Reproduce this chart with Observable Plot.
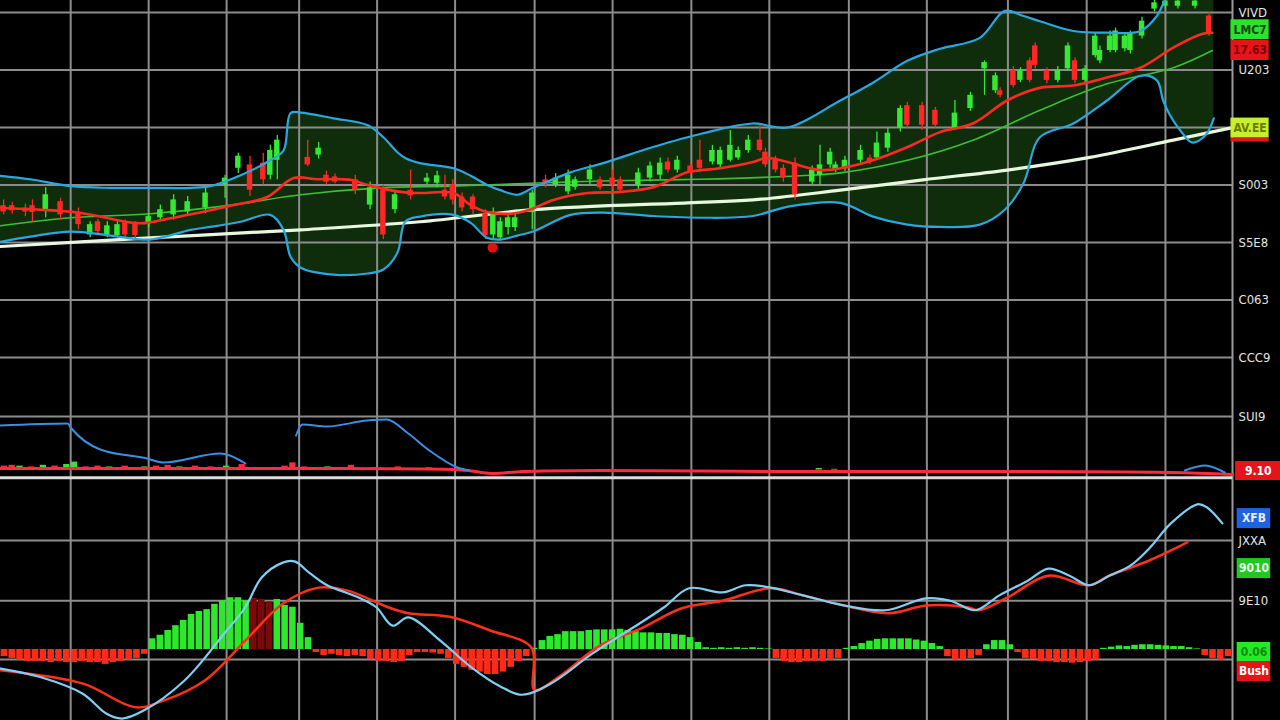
<!DOCTYPE html>
<html><head><meta charset="utf-8">
<script src="https://cdn.jsdelivr.net/npm/d3@7"></script>
<script src="https://cdn.jsdelivr.net/npm/@observablehq/plot@0.6"></script>
<style>
html,body{margin:0;padding:0;background:#000;}
#chart{position:relative;width:1280px;height:720px;overflow:hidden;background:#000;}
#chart svg{position:absolute;left:0;}
</style>
</head><body><div id="chart"></div>
<script>
// ---------- shared session ticks (vertical grid) ----------
const sessionTicks = [9,19,29,38.3,48.3,58.3,68.5,78.5,88.6,98.6,108.8,118.8,129.2,139.3,149.4];

// ---------- price panel ----------
const priceTicks = [180,170,160,150,140,130,120];
const priceTickLabels = ["VIVD","U203","","S003","S5E8","C063","CCC9"];

const candleIdx = [0.4,1.5,3.2,4.1,5.8,7.7,10,11.5,12.5,13.7,15,16,17.3,19,20.5,22.2,24,26.3,28.8,30.5,32,33.7,34.6,35.5,39.4,40.8,41.8,42.9,45.5,47.4,49.1,50.6,52.6,54.7,56,57,58,59.2,60.6,62.2,63.2,64.1,65.1,66,68.2,69.9,71.2,72.8,73.7,75.6,76.9,78.5,79.5,81.8,83.3,84.6,85.6,86.8,88.5,89.7,91.3,92.3,93.6,94.6,95.9,97.4,98.1,99.4,100.4,101.9,104.1,105.1,106.4,107.1,108.3,110.3,111.5,112.4,113.8,115.4,116.3,118.2,119.9,122.4,124.4,126.2,127.6,128.2,129.9,130.8,132,132.7,134.2,135.6,136.9,137.8,139.1,140.4,141,142.3,143,144.2,144.9,146.4,148,149.4,151,153.2,155];
const candleOpen = [146.4,146.4,146.0,146.4,145.7,147.1,145.2,141.3,143.6,141.2,141.2,143.4,143.2,143.2,144.3,144.8,145.3,146.0,150.0,152.9,153.5,153.8,151.7,154.3,154.8,155.2,151.7,151.4,150.9,146.5,149.1,145.7,149.1,150.5,150.3,149.1,150.0,147.9,147.9,145.0,141.3,140.8,142.6,142.6,145.2,150.9,150.0,148.8,149.6,150.9,150.9,151.2,150.9,150.0,151.2,151.7,154.0,152.6,153.3,154.3,154.0,153.5,154.3,154.7,156.0,157.8,155.7,154.3,152.9,153.8,150.5,151.7,153.5,152.6,152.9,154.3,154.7,154.7,156.4,159.9,163.8,163.8,163.0,159.9,163.3,170.2,166.4,166.4,169.9,168.2,171.6,174.2,169.9,168.2,170.2,171.6,168.2,172.5,171.6,173.4,173.4,173.7,173.4,175.9,180.6,181.1,181.1,181.1,179.4];
const candleClose = [145.3,145.5,145.3,145.2,148.3,144.8,143.1,143.1,141.9,142.9,143.1,141.3,141.2,144.5,145.7,147.4,147.1,148.6,151.2,155.0,149.1,150.9,156.0,157.8,153.5,156.4,150.5,150.5,149.1,149.5,141.3,148.3,148.1,151.2,151.6,147.9,147.4,146.0,145.7,141.2,145.3,143.6,144.3,144.3,148.6,150.0,151.2,151.7,150.9,152.6,149.5,150.0,149.1,152.1,153.3,153.8,152.6,154.3,152.2,152.9,156.0,156.0,156.9,156.0,157.8,156.0,153.5,152.6,151.2,148.3,152.6,153.5,155.7,153.5,154.3,156.0,154.0,157.3,159.0,163.3,160.4,160.4,160.4,162.5,165.6,171.3,169.0,165.6,167.3,169.9,168.2,170.8,168.2,169.9,174.2,168.2,170.2,175.9,173.4,175.9,176.8,175.9,176.3,178.5,181.7,182.0,182.0,182.0,176.3];
const candleHigh = [147.4,147.0,146.7,147.4,149.5,147.7,146.0,143.6,144.0,143.6,143.6,143.9,143.6,145.0,146.5,148.3,148.0,149.5,151.7,155.5,155.0,155.5,156.9,158.6,157.8,157.4,152.4,151.9,151.7,150.5,150.0,149.1,152.6,152.0,152.4,151.7,150.9,148.6,148.3,145.7,146.0,144.3,145.0,145.2,149.1,151.7,152.0,152.6,151.4,153.5,151.4,152.6,151.4,152.9,154.0,154.7,154.7,155.0,153.8,157.8,156.9,156.6,159.5,156.6,158.6,160.4,156.4,155.0,153.5,154.7,153.3,156.9,156.4,154.0,155.0,156.9,155.2,159.2,159.9,163.8,164.4,164.4,163.5,164.7,166.1,171.6,169.5,166.9,170.6,170.4,172.1,174.7,170.4,170.6,174.7,172.1,170.8,176.5,174.2,176.8,177.3,176.5,176.8,179.2,182.1,182.1,182.1,182.1,180.0];
const candleLow = [144.8,144.9,144.5,143.6,144.3,143.9,142.2,140.8,141.3,140.8,140.8,140.8,140.5,142.6,143.6,143.9,144.5,145.0,147.7,152.0,148.0,150.0,150.9,150.9,153.2,154.5,150.0,150.2,148.3,145.7,140.5,145.0,147.4,150.0,149.5,147.4,146.5,145.3,144.8,140.5,140.5,140.3,141.3,141.9,142.2,149.5,149.5,148.3,149.1,150.0,149.1,149.1,148.6,149.1,150.5,150.9,152.1,152.1,151.7,152.2,153.5,152.9,154.0,154.3,155.5,155.7,153.0,152.1,150.5,147.4,150.0,150.0,152.9,152.2,152.4,153.8,153.5,154.3,155.7,159.2,159.9,159.5,159.9,159.5,162.8,165.6,165.9,165.2,166.9,167.8,167.8,170.2,167.6,167.8,169.9,167.6,167.8,172.1,171.1,173.0,173.0,173.2,172.8,175.4,180.1,180.6,180.6,180.6,175.9];

const bandIdx = [0,3.8,9,14.1,19.2,24.4,26.9,30.8,34.6,36.3,37.2,38.5,42.7,47.1,49.1,50.9,51.9,53.8,58.1,60.3,62.4,64.1,66.3,68.3,73.1,77.3,83.7,90.1,96.5,100.9,107.7,111.9,116.3,120.5,125.6,128.8,131.2,133.3,137.6,141.9,146.2,148.3,149.1,150,151.3,152.8,154.5,155.6];
const bandUpper = [151.6,151.0,149.8,149.5,149.5,149.5,149.8,151.7,154.3,156.0,162.5,162.6,161.6,160.4,158.3,155.7,154.7,153.8,152.9,151.6,150.0,149.1,148.3,149.5,152.2,153.8,156.6,159.0,160.7,160.0,164.7,167.8,171.6,173.7,175.6,180.3,179.4,178.5,176.8,176.5,176.8,179.4,181.5,183.7,183.7,183.7,183.7,183.7];
const bandLower = [140.1,141.0,141.9,141.2,140.5,142.2,142.7,143.6,144.8,142.2,137.5,135.6,134.4,134.6,135.3,138.2,143.6,144.5,144.8,143.4,140.8,140.5,141.2,141.9,144.8,145.2,144.6,144.3,144.6,146.2,146.9,144.5,143.1,142.7,143.1,145.7,150.3,158.3,160.7,164.7,169.0,168.2,164.7,162.1,159.5,157.4,158.6,161.6];

const redMaIdx = [0,5.1,9.9,17.1,18.8,21.4,25.6,29.9,34.2,37.6,40.6,44.9,47.1,51.3,53.8,58.1,60.3,62.4,65.4,67.9,70.9,75.3,79.5,83.7,88.1,92.3,96.5,98.3,100.9,105.1,107.7,111.9,116.3,120.5,124.7,129.1,133.3,137.6,141.9,146.2,150.4,154.2,155.4];
const redMaVal = [146.0,145.7,145.2,143.4,143.4,144.1,145.2,146.5,147.9,151.2,151.0,150.9,150.0,148.8,148.6,148.6,146.5,145.3,145.0,145.7,147.4,148.6,148.8,149.6,152.2,152.9,154.0,154.7,154.0,152.6,152.9,154.3,156.6,159.2,160.7,164.7,166.9,167.3,168.7,170.4,173.9,176.3,176.5];

const greenMaIdx = [0,9,19.2,29.5,38.5,48.7,57.7,67.9,76.9,89.7,102.6,107.7,116.3,124.7,133.3,141.9,150.4,155.4];
const greenMaVal = [142.9,144.3,145.0,146.5,148.3,149.5,149.8,150.3,150.7,151.0,151.6,152.1,154.3,157.8,163.0,167.6,170.4,173.4];

const longMaIdx = [0,19.2,38.5,53.8,68.3,88.1,96.5,107.7,118.3,129.1,139.7,150.4,157.7];
const longMaVal = [139.3,140.8,142.2,143.6,145.7,146.9,147.4,149.1,150.9,152.6,154.8,157.8,159.9];

const lowMarkerIdx = [63.1];
const lowMarkerVal = [139.1];

const topTagLabels = ["LMC7","17.63","AV.EE"];
const topTagValues = [177.0,173.4,159.9];
const topTagKinds = ["green","red","lime"];

// ---------- middle indicator panel ----------
const midTicks = [80];
const midTickLabels = ["SUI9"];
const midBlueIdx = [0,8.6,9.1,12.8,18.8,20.9,28.2,29.4,31.4,33,37.9,38.7,41.9,47,49.5,52.3,55,58.6,60.1,150,151.9,154.5,157];
const midBlueVal = [68.75,71.3,65,38.75,27.5,22.5,33.75,31.25,21.25,null,56.25,70,67.5,75,76.25,58.75,37.5,16.25,12.5,null,12.5,18.75,10];
const midRedIdx = [0,20,40,58,60,63,67,77,100,128,150,158];
const midRedVal = [15,15,15,13.75,12.5,8.75,11.25,12.5,11.25,11.25,10,7.5];
const volIdx = [0.5,1.5,2.5,4,5.5,7,8.5,9.5,11,12.5,14,16,18.5,20,21.5,23,25,27,29,31,36.5,37.5,39,42,45,48,51,55,59,105,107];
const volVal = [18,19,18,17,19,18,20,23,17,18,17,18,17,18,19,17,18,17,18,20,18,22,17,17,19,16,17,16,15,15,14];
const volUp = [0,0,1,0,1,0,1,1,0,0,1,0,1,0,0,1,0,0,1,0,0,0,0,1,0,0,0,0,0,1,1];
const midTagLabels = ["9.10"];
const midTagValues = [11.25];
const midTagKinds = ["redW"];

// ---------- MACD panel ----------
const macdTicks = [1.83,0.82,-0.17];
const macdTickLabels = ["JXXA","9E10",""];
const histVal = [-0.12,-0.15,-0.18,-0.2,-0.2,-0.2,-0.22,-0.2,-0.22,-0.22,-0.2,-0.22,-0.22,-0.25,-0.22,-0.2,-0.18,-0.15,-0.08,
 0.18,0.24,0.32,0.4,0.49,0.59,0.64,0.67,0.76,0.82,0.87,0.87,0.82,
 0.86,0.84,0.8,
 0.84,0.74,0.71,0.44,0.2,
 -0.05,-0.1,-0.08,-0.1,-0.12,-0.1,-0.12,-0.17,-0.2,-0.2,-0.22,-0.2,-0.1,-0.05,-0.05,-0.06,-0.08,-0.15,-0.25,-0.3,-0.35,-0.38,-0.42,-0.42,-0.38,-0.3,-0.2,-0.12,
 0.02,
 0.15,0.22,0.25,0.3,0.3,0.3,0.32,0.33,0.33,0.33,0.34,0.32,0.3,0.28,0.28,0.27,0.27,0.25,0.24,0.2,0.12,
 0.03,0.02,0.03,0.02,0.03,0.02,0.03,0.02,0.01,
 -0.15,-0.2,-0.22,-0.22,-0.2,-0.2,-0.2,-0.18,-0.15,
 0.02,0.05,0.1,0.14,0.17,0.18,0.18,0.18,0.18,0.16,0.14,0.1,0.05,
 -0.12,-0.18,-0.18,-0.15,-0.1,
 0.08,0.15,0.15,0.08,
 -0.05,-0.15,-0.17,-0.2,-0.2,-0.22,-0.22,-0.23,-0.22,-0.2,-0.18,
 0.02,0.04,0.06,0.05,0.07,0.08,0.08,0.07,0.06,0.05,0.05,0.03,0.01,
 -0.1,-0.15,-0.18,-0.12];
const histFading = [32,33,34];
const macdIdx = [0,5.3,10.5,13.6,15.6,18.3,23.6,28.7,31.4,33.5,36.2,37.7,39.7,41.9,46,48.2,50.3,52.3,56.4,60.3,64.1,66.9,70.6,75.9,82.1,85.1,88.3,92.6,95.6,98.8,102.9,108.2,113.5,118.7,121.8,125,128.1,131.8,134.4,137.1,139.6,142.2,144.9,147.4,150.1,153.5,154.7,156.7];
const macdVal = [-0.32,-0.47,-0.74,-1.08,-1.16,-1.03,-0.52,0.27,0.71,1.21,1.46,1.48,1.28,1.08,0.87,0.71,0.40,0.54,0.15,-0.29,-0.62,-0.76,-0.57,-0.07,0.45,0.71,1.03,0.96,1.08,1.04,0.91,0.74,0.66,0.86,0.82,0.66,0.91,1.16,1.36,1.24,1.08,1.24,1.41,1.71,2.12,2.44,2.39,2.12];
const signalIdx = [0,10.5,17.3,20.9,26.2,31.4,36.2,40.8,44.5,49.7,52.3,57.6,62.8,68.1,68.5,71.8,76.9,82.1,87.3,92.6,98.8,102.9,108.2,114,118.7,124,125.5,129.1,134.4,139.6,142.2,147.4,152.2];
const signalVal = [-0.35,-0.57,-0.97,-0.86,-0.52,0.15,0.77,1.04,0.99,0.71,0.61,0.55,0.32,0.03,-0.68,-0.44,0.07,0.35,0.69,0.82,1.03,0.91,0.74,0.61,0.74,0.71,0.66,0.87,1.24,1.08,1.24,1.50,1.80];
const lowTagLabels = ["XFB","9010","0.06","Bush"];
const lowTagValues = [2.20,1.36,-0.05,-0.37];
const lowTagKinds = ["blue","greenW","green2","redW"];

// ---------- styling ----------
const GRID = "#8c8c8c";
const UP = "#34e834", DOWN = "#ff2626";
const FONT = "'DejaVu Sans Condensed','DejaVu Sans',sans-serif";
const tagFill = {green:"#2fe02f",red:"#e8141a",lime:"#c6f02a",blue:"#1f63e0",greenW:"#22c722",green2:"#27e827",redW:"#e5141b"};
const tagText = {green:"#0b4a0b",red:"#7a0000",lime:"#6a7a00",blue:"#e8f0ff",greenW:"#eaffea",green2:"#138a13",redW:"#ffffff"};

const zip = (xs, ys) => xs.map((i,k)=>({i, v: ys[k]}));
const candles = candleIdx.map((i,k)=>({i,o:candleOpen[k],c:candleClose[k],h:candleHigh[k],l:candleLow[k]}));
const bands = bandIdx.map((i,k)=>({i, up:bandUpper[k], lo:bandLower[k]}));
const mkTags = (labels, values, kinds) => labels.map((t,k)=>({t, v:values[k], kind:kinds[k]}));
const candleColor = d => d.c >= d.o ? UP : DOWN;

function tagMarks(tags, x1, x2){
  return [
    Plot.rect(tags, {x1, x2, y1:"v", y2:"v", insetTop:-10, insetBottom:-10, fill:d=>tagFill[d.kind]}),
    Plot.rect(tags.filter(d=>d.kind==="lime"), {x1, x2, y1:"v", y2:"v", insetTop:10, insetBottom:-14, fill:"#e8141a"}),
    Plot.text(tags, {x:(x1+x2)/2, y:"v", text:"t", fill:d=>tagText[d.kind], fontSize:12, fontWeight:"bold", fontFamily:FONT})
  ];
}
function tickLabels(ticks, labels){
  return Plot.text(ticks, {x:158, y:d=>d, text:(d,i)=>labels[i], dx:6, textAnchor:"start", fill:"#e4e4e4", fontSize:13, fontFamily:FONT});
}
function panel(height, ydomain, marks){
  return Plot.plot({
    width:1280, height, marginTop:0, marginBottom:0, marginLeft:0, marginRight:48,
    x:{domain:[0,158], axis:null},
    y:{domain:ydomain, axis:null},
    style:{background:"transparent", color:"#ddd", fontFamily:FONT, overflow:"hidden"},
    marks
  });
}
const gridMarks = yt => [
  Plot.ruleX(sessionTicks, {stroke:GRID, strokeWidth:2}),
  Plot.ruleY(yt, {stroke:GRID, strokeWidth:2}),
  Plot.ruleX([158], {stroke:"#9a9a9a", strokeWidth:2})
];

// ---------- price panel ----------
const p1 = panel(400, [112.5, 182.1], [
  Plot.areaY(bands, {x:"i", y1:"lo", y2:"up", fill:"#16400f", fillOpacity:0.7, curve:"catmull-rom", clip:true}),
  ...gridMarks(priceTicks),
  Plot.line(zip(longMaIdx,longMaVal), {x:"i", y:"v", stroke:"#e6f7de", strokeWidth:3.2, curve:"catmull-rom"}),
  Plot.line(zip(greenMaIdx,greenMaVal), {x:"i", y:"v", stroke:"#3cbf32", strokeWidth:1.6, curve:"catmull-rom"}),
  Plot.ruleX(candles, {x:"i", y1:"l", y2:"h", stroke:candleColor, strokeWidth:1.3, clip:true}),
  Plot.rect(candles, {x1:d=>d.i-0.35, x2:d=>d.i+0.35, y1:"o", y2:"c", fill:candleColor, clip:true}),
  Plot.line(zip(redMaIdx,redMaVal), {x:"i", y:"v", stroke:"#ff2a1f", strokeWidth:2.6, curve:"catmull-rom"}),
  Plot.line(bands, {x:"i", y:"up", stroke:"#2aa7e0", strokeWidth:2.2, curve:"catmull-rom", clip:true}),
  Plot.line(bands, {x:"i", y:"lo", stroke:"#2aa7e0", strokeWidth:2.2, curve:"catmull-rom", clip:true}),
  Plot.dot(zip(lowMarkerIdx,lowMarkerVal), {x:"i", y:"v", r:5, fill:"#e01010"}),
  ...tagMarks(mkTags(topTagLabels, topTagValues, topTagKinds), 157.8, 162.7),
  tickLabels(priceTicks, priceTickLabels)
]);

// ---------- middle panel ----------
const vols = volIdx.map((i,k)=>({i, v:volVal[k], up:volUp[k]}));
const p2 = panel(80, [0, 100], [
  ...gridMarks(midTicks),
  Plot.ruleY([3.5], {stroke:"#dcdcdc", strokeWidth:3}),
  Plot.rect(vols, {x1:d=>d.i-0.4, x2:d=>d.i+0.4, y1:13, y2:"v", fill:d=>d.up ? "#3ddc3d" : "#ff2a3a"}),
  Plot.line(zip(midRedIdx,midRedVal), {x:"i", y:"v", stroke:"#ff2a3c", strokeWidth:3, curve:"catmull-rom"}),
  Plot.line(zip(midBlueIdx,midBlueVal), {x:"i", y:"v", stroke:"#3b8ee2", strokeWidth:2, curve:"monotone-x"}),
  ...tagMarks(mkTags(midTagLabels, midTagValues, midTagKinds), 158.4, 164.2),
  tickLabels(midTicks, midTickLabels)
]);

// ---------- MACD panel ----------
const hist = histVal.map((v,i)=>({i, v, fade: histFading.includes(i)}));
const p3 = panel(240, [-1.193, 2.840], [
  ...gridMarks(macdTicks),
  Plot.rect(hist, {x1:d=>d.i+0.08, x2:d=>d.i+0.92, y1:0, y2:"v", fill:d=>d.fade ? "#7a0a0a" : (d.v >= 0 ? "#2ee82e" : "#ff2a1a")}),
  Plot.line(zip(signalIdx,signalVal), {x:"i", y:"v", stroke:"#ff3018", strokeWidth:2.5, curve:"catmull-rom"}),
  Plot.line(zip(macdIdx,macdVal), {x:"i", y:"v", stroke:"#7fd0f5", strokeWidth:2.2, curve:"catmull-rom"}),
  ...tagMarks(mkTags(lowTagLabels, lowTagValues, lowTagKinds), 158.6, 162.9),
  tickLabels(macdTicks, macdTickLabels)
]);

const host = document.getElementById("chart");
[[p1,0],[p2,400],[p3,480]].forEach(([svg,top])=>{ svg.style.top = top + "px"; host.appendChild(svg); });
</script>
</body></html>
